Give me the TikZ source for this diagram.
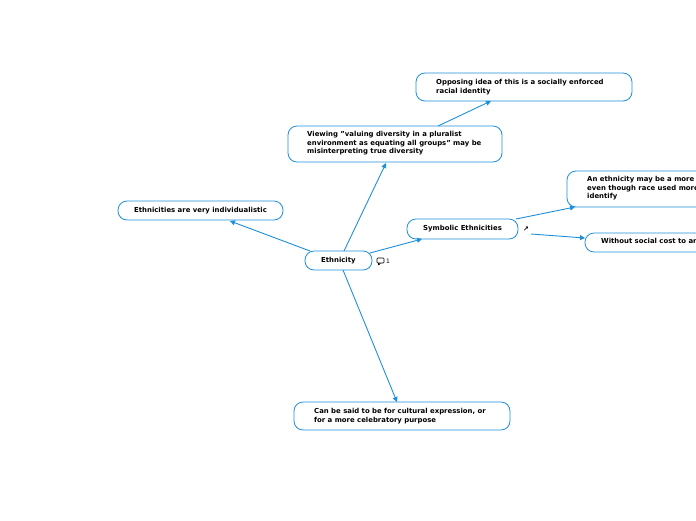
\documentclass[tikz,border=0pt]{standalone}
\usepackage{fontspec}
\setmainfont{DejaVu Sans}
\usetikzlibrary{arrows.meta}
\definecolor{mblue}{HTML}{1E90DB}
\tikzset{
 box/.style={draw=mblue,line width=0.8pt,rounded corners=9pt,fill=white,inner sep=0pt},
 lbl/.style={anchor=north west,align=left,font=\bfseries\fontsize{6.9}{8.4}\selectfont,inner sep=0pt},
 con/.style={draw=mblue,line width=0.9pt,-{Triangle[length=5pt,width=5pt]}}
}
\begin{document}
\begin{tikzpicture}[x=1pt,y=-1pt]
\useasboundingbox (0,0) rectangle (696,520);
\clip (0,0) rectangle (696,520);
\draw[box] (305,251) rectangle (372,270);
\node[lbl] (eth) at (321,257.5) {Ethnicity};
\draw[box] (118,201) rectangle (283,220);
\node[lbl] (ind) at (134,207.5) {Ethnicities are very individualistic};
\draw[box] (288,126) rectangle (502,162);
\node[lbl] (view) at (307,131.5) {Viewing "valuing diversity in a pluralist\\environment as equating all groups" may be\\misinterpreting true diversity};
\draw[box] (416,73) rectangle (632,101);
\node[lbl] (opp) at (436,79.5) {Opposing idea of this is a socially enforced\\racial identity};
\draw[box] (407,219) rectangle (518,239);
\node[lbl] (sym) at (423,225.5) {Symbolic Ethnicities};
\draw[box] (567,171) rectangle (760,207);
\node[lbl] (an) at (587,176.5) {An ethnicity may be a more\\even though race used more\\identify};
\draw[box] (585,233) rectangle (760,252);
\node[lbl] (wo) at (601,238.5) {Without social cost to an};
\draw[box] (294,402) rectangle (510,430);
\node[lbl] (can) at (314,408.5) {Can be said to be for cultural expression, or\\for a more celebratory purpose};
\coordinate (e1) at (344,251); \coordinate (v1) at (386,163);
\coordinate (e2) at (310,251); \coordinate (i1) at (230,221);
\coordinate (e3) at (370,253); \coordinate (s1) at (422,239);
\coordinate (e4) at (343,270); \coordinate (c1) at (397,402);
\coordinate (v2) at (438,126); \coordinate (o1) at (491,101);
\coordinate (s2) at (516,219); \coordinate (a1) at (575,207);
\coordinate (s3) at (531,234); \coordinate (w1) at (585,238);
\draw[con] (e1) -- (v1);
\draw[con] (e2) -- (i1);
\draw[con] (e3) -- (s1);
\draw[con] (e4) -- (c1);
\draw[con] (v2) -- (o1);
\draw[con] (s2) -- (a1);
\draw[con] (s3) -- (w1);
\node[font=\bfseries\fontsize{7}{7}\selectfont,inner sep=0pt] (ic) at (526,229) {↗};
\draw[line width=0.6pt,rounded corners=0.8pt] (377,258) rectangle (384,263) (378.5,263) -- (378.5,265.5) -- (380.5,263);
\node[font=\fontsize{6}{6}\selectfont,inner sep=0pt,anchor=west] (cn) at (386,261) {1};
\end{tikzpicture}
\end{document}
